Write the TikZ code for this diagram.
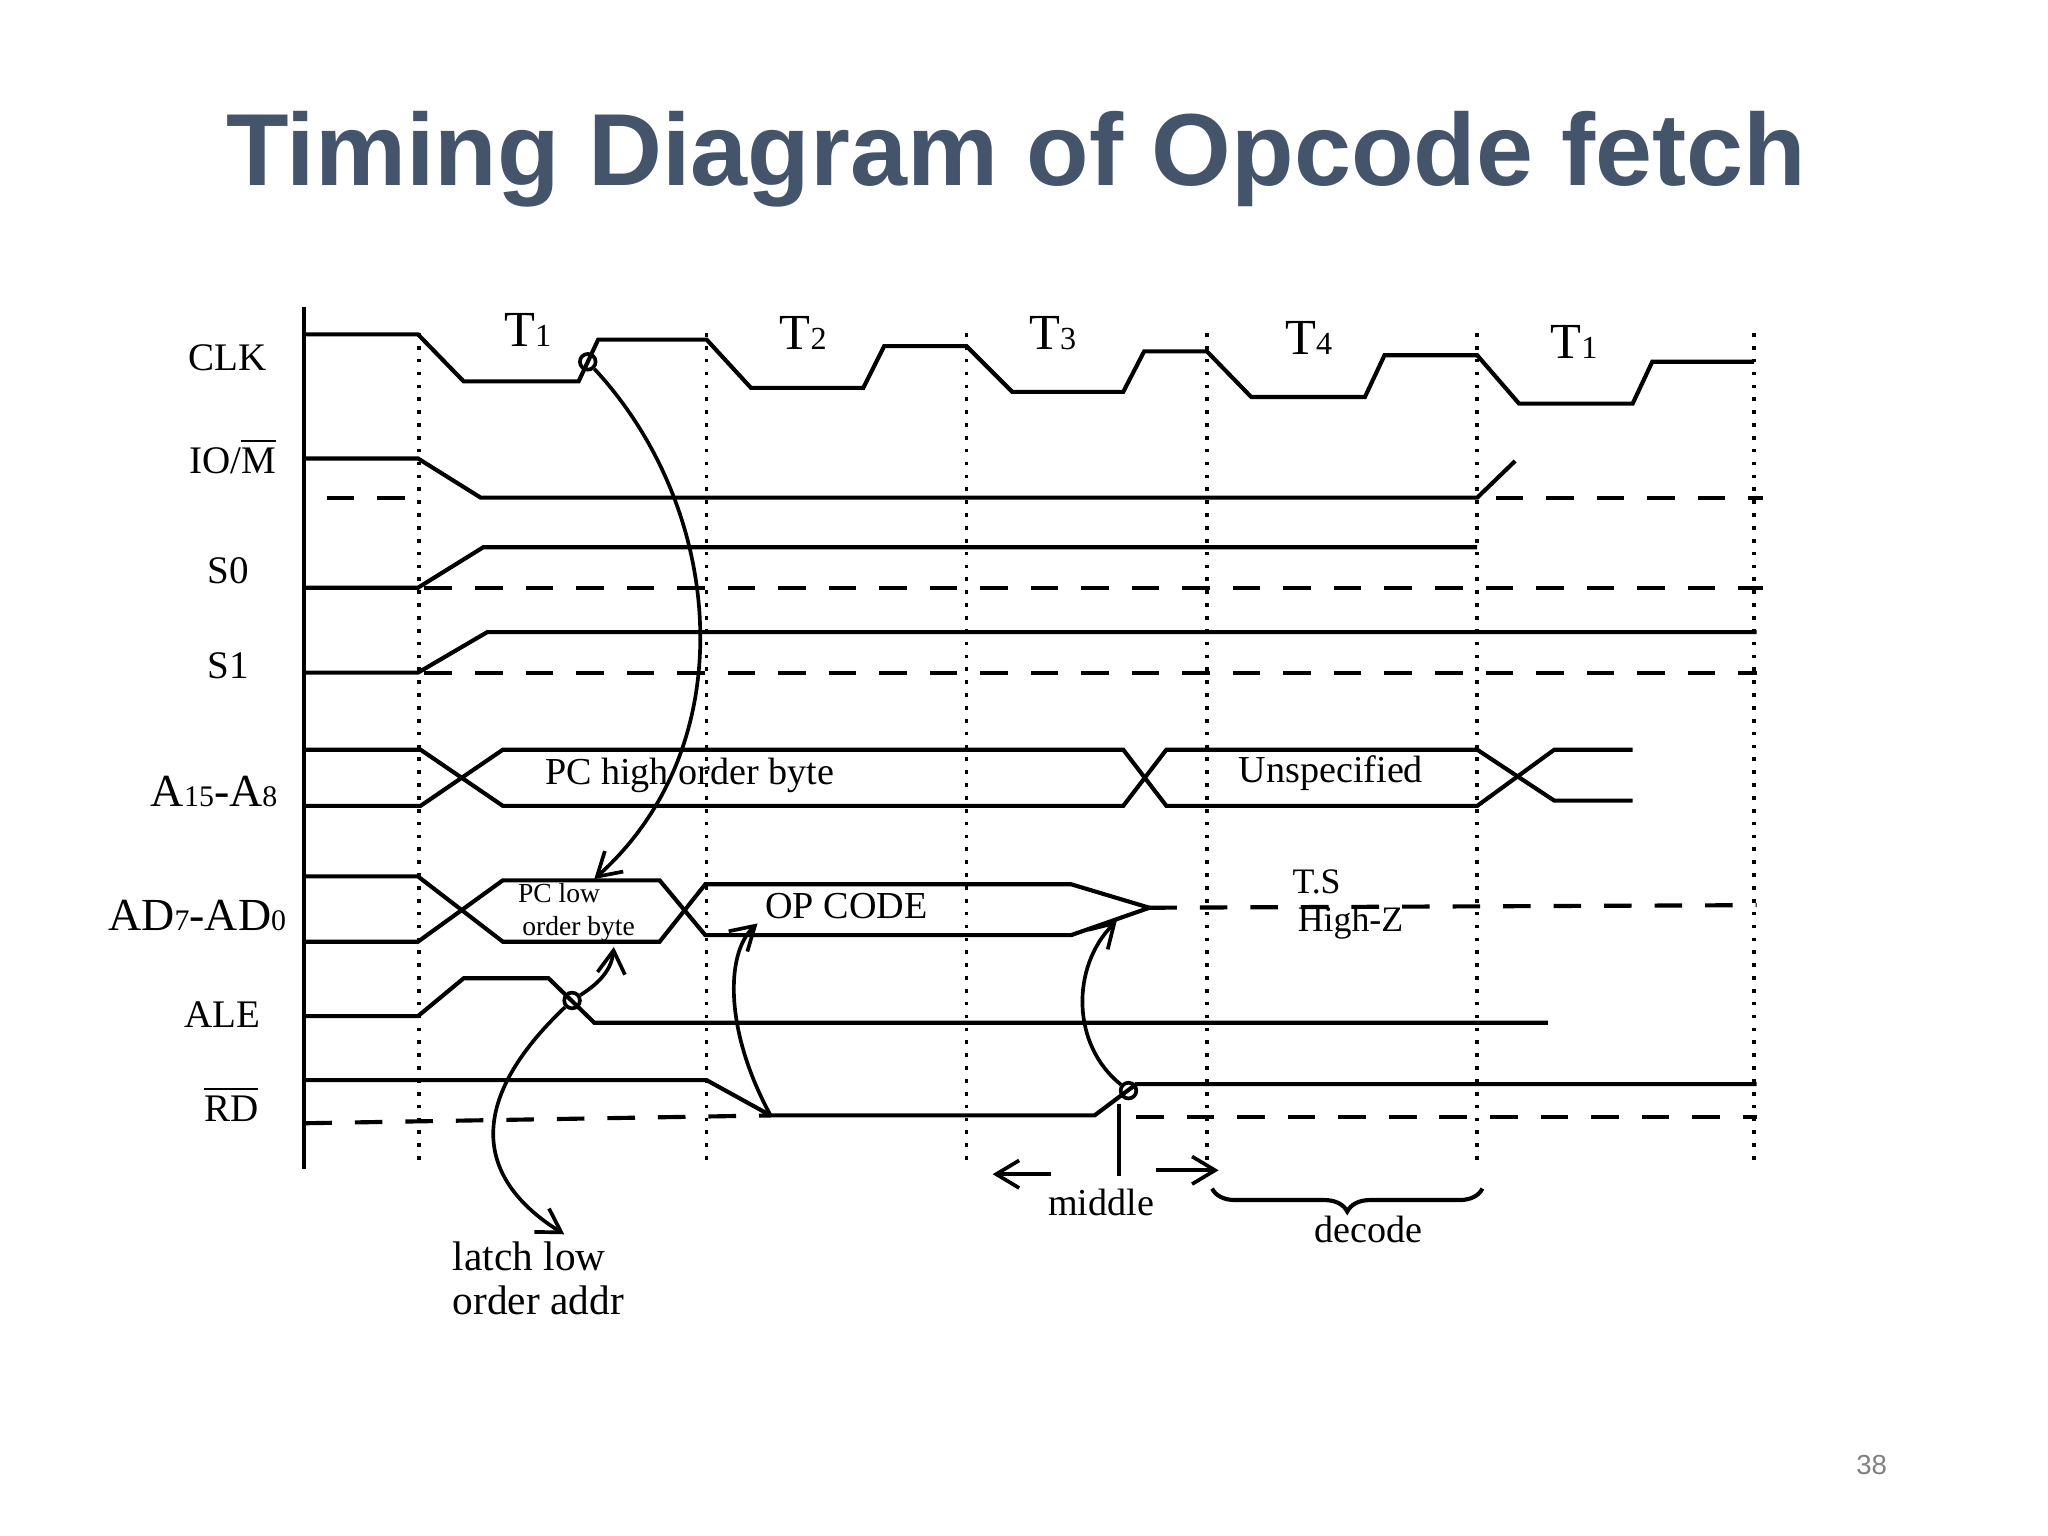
\documentclass[tikz,border=0pt]{standalone}
\usepackage{fontspec}
\setmainfont{Liberation Serif}
\newfontfamily\titlefont{Liberation Sans}
\usetikzlibrary{decorations.pathreplacing,arrows.meta}
\definecolor{titlec}{HTML}{44546A}
\begin{document}
\begin{tikzpicture}[x=0.01cm,y=-0.01cm,
  sig/.style={line width=0.9pt,black},
  dsh/.style={line width=0.9pt,dash pattern=on 6pt off 5pt},
  dot/.style={line width=0.8pt,dotted},
  lab/.style={font=\fontsize{8.5}{10}\selectfont,inner sep=0},
  tl/.style={font=\fontsize{11}{12}\selectfont,inner sep=0},
  txt/.style={font=\fontsize{7.5}{9}\selectfont,inner sep=0},
  arr/.style={line width=0.8pt,-{Straight Barb[length=5pt,width=6pt]}}]
\useasboundingbox (0,0) rectangle (1568,1176);
\node[font=\titlefont\bfseries\fontsize{22.3}{26}\selectfont,text=titlec] (title) at (778,122) {Timing Diagram of Opcode fetch};
\node[font=\titlefont\fontsize{6}{7}\selectfont,text=gray] (pg) at (1433,1122) {38};
% axis and dotted lines
\draw[sig] (233,235) -- (233,895);
\foreach \x in {321,541,740,924,1131,1343} \draw[dot] (\x,255) -- (\x,895);
% labels
\node[lab] (lclk) at (174,274) {CLK};
\node[lab] (lio) at (178,349) {IO/$\overline{\mbox{M}}$};
\node[lab] (ls0) at (175,437) {S0};
\node[lab] (ls1) at (175,510) {S1};
\node[lab,font=\fontsize{10}{12}\selectfont] (la) at (164,606) {A{\fontsize{6.5}{7}\selectfont 15}-A{\fontsize{6.5}{7}\selectfont 8}};
\node[lab,font=\fontsize{10}{12}\selectfont] (lad) at (151,701) {AD{\fontsize{6.5}{7}\selectfont 7}-AD{\fontsize{6.5}{7}\selectfont 0}};
\node[lab] (lale) at (170,777) {ALE};
\node[lab] (lrd) at (177,845) {$\overline{\mbox{RD}}$};
% T labels
\node[tl] (t1) at (404,253) {T{\fontsize{7}{8}\selectfont 1}};
\node[tl] (t2) at (615,255) {T{\fontsize{7}{8}\selectfont 2}};
\node[tl] (t3) at (806,255) {T{\fontsize{7}{8}\selectfont 3}};
\node[tl] (t4) at (1002,259) {T{\fontsize{7}{8}\selectfont 4}};
\node[tl] (t5) at (1205,262) {T{\fontsize{7}{8}\selectfont 1}};
% CLK
\draw[sig] (233,256)--(320,256)--(355,292)--(443,292)--(458,260)--(541,260)--(575,297)--(661,297)--(677,265)--(740,265)--(775,300)--(860,300)--(876,269)--(924,269)--(958,304)--(1045,304)--(1060,272)--(1131,272)--(1163,309)--(1250,309)--(1265,277)--(1343,277);
% IO/M
\draw[sig] (233,351)--(320,351)--(368,381)--(1131,381)--(1160,353);
\draw[dsh] (250,381)--(320,381); \draw[dsh] (1145,381)--(1350,381);
% S0
\draw[sig] (233,450)--(320,450)--(370,419)--(1131,419);
\draw[dsh] (325,450)--(1350,450);
% S1
\draw[sig] (233,515)--(320,515)--(373,484)--(1345,484);
\draw[dsh] (325,515)--(1345,515);
% A15-A8
\draw[sig] (233,574)--(322,574)--(385,617)--(860,617)--(893,574)--(1131,574)--(1190,613)--(1250,613);
\draw[sig] (233,617)--(322,617)--(385,574)--(860,574)--(893,617)--(1131,617)--(1190,574)--(1250,574);
\node[txt,font=\fontsize{8.3}{9}\selectfont] (pch) at (528,594) {PC high order byte};
\node[txt,font=\fontsize{8.3}{9}\selectfont] (uns) at (1019,592) {Unspecified};
% AD7-AD0
\draw[sig] (233,671)--(320,671)--(385,721)--(505,721)--(540,677)--(820,677)--(880,695);
\draw[sig] (233,721)--(320,721)--(385,674)--(505,674)--(540,716)--(820,716)--(880,695);
\draw[dsh] (880,695)--(1345,693);
\node[txt,font=\fontsize{6}{7}\selectfont] (pcl1) at (428,684) {PC low};
\node[txt,font=\fontsize{6}{7}\selectfont] (pcl2) at (443,711) {order byte};
\node[txt,font=\fontsize{8.3}{9}\selectfont] (opc) at (648,694) {OP CODE};
\node[txt,font=\fontsize{7.8}{9}\selectfont] (ts) at (1008,675) {T.S};
\node[txt,font=\fontsize{7.8}{9}\selectfont] (hz) at (1034,707) {High-Z};
% ALE
\draw[sig] (233,778)--(320,778)--(355,749)--(420,749)--(455,783)--(1185,783);
% RD
\draw[sig] (233,827)--(541,827)--(590,854)--(838,854)--(870,830)--(1345,830);
\draw[dsh] (233,860)--(590,854); \draw[dsh] (870,855)--(1345,855);
% circles
\node[draw,circle,inner sep=0,line width=0.8pt,minimum size=0.12cm] (c1) at (450,277) {};
\node[draw,circle,inner sep=0,line width=0.8pt,minimum size=0.12cm] (c2) at (438,766) {};
\node[draw,circle,inner sep=0,line width=0.8pt,minimum size=0.12cm] (c3) at (864,835) {};
\coordinate (pcltop) at (455,673);
\coordinate (pclbot) at (470,725);
\coordinate (oparr) at (580,707);
\coordinate (rdlow) at (590,854);
\coordinate (ztip) at (855,705);
\coordinate (latchtip) at (432,945);
% curved arrows
\draw[arr] (c1) .. controls (555,390) and (570,570) .. (pcltop);
\draw[arr] (c2) .. controls (455,755) and (468,745) .. (pclbot);
\draw[arr] (c2) .. controls (360,840) and (360,900) .. (latchtip);
\draw[arr] (rdlow) .. controls (555,790) and (555,730) .. (oparr);
\draw[arr] (c3) .. controls (820,800) and (820,740) .. (ztip);
\draw[line width=0.9pt] (857,845) -- (857,900);
% middle / decode
\coordinate (m1) at (805,899); \coordinate (m2) at (760,899);
\coordinate (m3) at (885,896); \coordinate (m4) at (933,896);
\draw[arr] (m1) -- (m2);
\draw[arr] (m3) -- (m4);
\node[txt,font=\fontsize{8.3}{9}\selectfont] (mid) at (843,921) {middle};
\coordinate (b1) at (928,910); \coordinate (b2) at (1135,910);
\draw[line width=0.9pt,decorate,decoration={brace,mirror,amplitude=5pt}] (b1) -- (b2);
\node[txt,font=\fontsize{8.3}{9}\selectfont] (dec) at (1048,941) {decode};
\node[txt,font=\fontsize{9}{9.7}\selectfont,align=left,anchor=north west] (latch) at (346,950) {latch low\\order addr};
\end{tikzpicture}
\end{document}
